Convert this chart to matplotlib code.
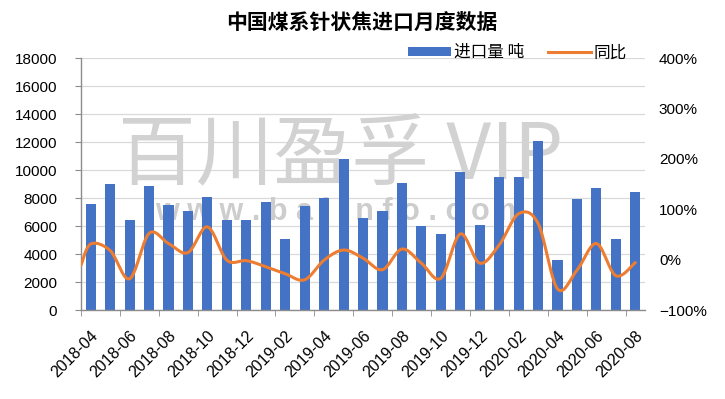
import numpy as np
import matplotlib
matplotlib.use("Agg")
import matplotlib.pyplot as plt
from matplotlib.lines import Line2D
from matplotlib.patches import Patch

months = ["2018-04", "2018-05", "2018-06", "2018-07", "2018-08", "2018-09", "2018-10",
          "2018-11", "2018-12", "2019-01", "2019-02", "2019-03", "2019-04", "2019-05",
          "2019-06", "2019-07", "2019-08", "2019-09", "2019-10", "2019-11", "2019-12",
          "2020-01", "2020-02", "2020-03", "2020-04", "2020-05", "2020-06", "2020-07",
          "2020-08"]
import_tons = [7550, 9000, 6400, 8850, 7500, 7050, 8070, 6450, 6450, 7750, 5050, 7430,
               8000, 10800, 6550, 7050, 9100, 6000, 5400, 9850, 6050, 9500, 9500, 12050,
               3600, 7900, 8700, 5050, 8400]
yoy_pct = [31, 18, -38, 52, 32, 14, 65, -1, -2, -14, -28, -40, -1, 19, 3, -20, 21,
           -7, -37, 51, -7, 29, 91, 72, -58, -21, 32, -32, -6]
yoy_left_edge = -11

title = "中国煤系针状焦进口月度数据"
bar_label = "进口量 吨"
line_label = "同比"
left_ticks = list(range(0, 18001, 2000))
right_ticks = [-100, 0, 100, 200, 300, 400]

BLUE = "#4472C4"
ORANGE = "#ED7D31"
CJK = ["Noto Sans CJK SC", "DejaVu Sans"]
plt.rcParams["font.family"] = ["Liberation Sans", "DejaVu Sans"]


def smooth_curve(xs, ys, n=20):
    xs = np.asarray(xs, float)
    ys = np.asarray(ys, float)
    px = np.concatenate([[xs[0]], xs, [xs[-1]]])
    py = np.concatenate([[ys[0]], ys, [ys[-1]]])
    ox, oy = [], []
    t = np.linspace(0, 1, n, endpoint=False)
    for i in range(1, len(px) - 2):
        p0x, p1x, p2x, p3x = px[i - 1], px[i], px[i + 1], px[i + 2]
        p0y, p1y, p2y, p3y = py[i - 1], py[i], py[i + 1], py[i + 2]
        c1x = p1x + (p2x - p0x) / 6
        c1y = p1y + (p2y - p0y) / 6
        c2x = p2x - (p3x - p1x) / 6
        c2y = p2y - (p3y - p1y) / 6
        bx = (1 - t) ** 3 * p1x + 3 * (1 - t) ** 2 * t * c1x + 3 * (1 - t) * t ** 2 * c2x + t ** 3 * p2x
        by = (1 - t) ** 3 * p1y + 3 * (1 - t) ** 2 * t * c1y + 3 * (1 - t) * t ** 2 * c2y + t ** 3 * p2y
        ox.extend(bx)
        oy.extend(by)
    ox.append(xs[-1])
    oy.append(ys[-1])
    return np.array(ox), np.array(oy)


fig = plt.figure(figsize=(7.25, 3.99), dpi=100)
ax = fig.add_axes([0.1117, 0.223, 0.7780, 0.6316])
x = np.arange(len(months))

ax.bar(x, import_tons, width=0.52, color=BLUE, zorder=2)
ax.set_xlim(-0.5, len(months) - 0.5)
ax.set_ylim(0, 18000)
ax.set_yticks(left_ticks)
ax.set_yticklabels([str(v) for v in left_ticks])
ax.grid(axis="y", color="#d9d9d9", linewidth=0.9, zorder=0)
ax.set_axisbelow(True)
for s in ["top", "right"]:
    ax.spines[s].set_visible(False)
for s in ["left", "bottom"]:
    ax.spines[s].set_color("#8c8c8c")
    ax.spines[s].set_linewidth(1.0)
ax.tick_params(axis="y", length=4, color="#8c8c8c", pad=13, labelsize=11)

ax.set_xticks(x[::2])
ax.set_xticklabels([months[i] for i in x[::2]], rotation=45, ha="right",
                   va="top", rotation_mode="anchor")
ax.set_xticks(np.arange(-0.5, len(months) - 1, 2), minor=True)
ax.tick_params(axis="x", which="major", length=0, pad=13, labelsize=11.5)
ax.tick_params(axis="x", which="minor", length=4, color="#8c8c8c")

# watermark
ax.text(0.461, 0.607, "百川盈孚 VIP", transform=ax.transAxes, fontsize=56,
        family=CJK, color="#d2d2d2", ha="center", va="center", zorder=1)
ax.text(0.459, 0.389, "w w w . b a i i n f o . c o m", transform=ax.transAxes,
        fontsize=22, fontweight="bold", color="#cdcdcd",
        ha="center", va="center", zorder=1)

ax2 = ax.twinx()
ax2.set_ylim(-100, 400)
ax2.set_yticks(right_ticks)
ax2.set_yticklabels([("\u2212" if v < 0 else "") + f"{abs(v)}%" for v in right_ticks])
ax2.tick_params(axis="y", length=0, pad=10, labelsize=11)
for s in ["top", "right", "left", "bottom"]:
    ax2.spines[s].set_visible(False)

lx = np.concatenate([[-0.5], x])
ly = np.concatenate([[yoy_left_edge], yoy_pct])
sx, sy = smooth_curve(lx, ly)
ax2.plot(sx, sy, color=ORANGE, linewidth=2.2, solid_capstyle="round", zorder=3)

fig.text(0.4993, 0.945, title, family=CJK, fontsize=15, fontweight="bold",
         ha="center", va="center")

handles = [Patch(facecolor=BLUE, edgecolor="none"),
           Line2D([0], [0], color=ORANGE, linewidth=2.2)]
fig.legend(handles, [bar_label, line_label], loc="center right",
           bbox_to_anchor=(0.885, 0.868), ncol=2, frameon=False,
           prop={"family": CJK, "size": 12}, handlelength=2.6, handleheight=0.5,
           columnspacing=1.4, handletextpad=0.15)

fig.savefig("out.png", dpi=100)
